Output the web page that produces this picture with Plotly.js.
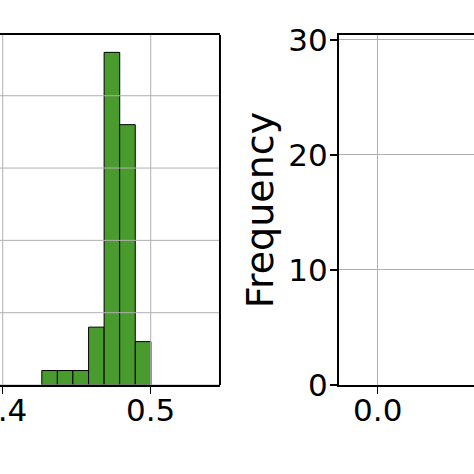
<!DOCTYPE html>
<html>
<head>
<meta charset="utf-8">
<script src="https://cdn.plot.ly/plotly-3.0.1.min.js"></script>
<style>html,body{margin:0;padding:0;background:#fff;}#chart{width:474px;height:474px;}</style>
</head>
<body>
<div id="chart"></div>
<script>
// Left histogram (visible part): bin centres and counts
const binCenters = [0.4317, 0.4422, 0.4527, 0.4633, 0.4738, 0.4843, 0.4949];
const binWidth = 0.01054;
const counts = [1, 1, 1, 4, 23, 18, 3];

// Tick values
const leftXTicks = [0.4, 0.5];
const leftYTicks = [0, 5, 10, 15, 20];
const rightXTicks = [0.0];
const rightYTicks = [0, 10, 20, 30];
const rightYTitle = 'Frequency';

const font = 'DejaVu Sans, sans-serif';
const gridColor = '#b0b0b0';

const trace = {
  type: 'bar', x: binCenters, y: counts, width: binWidth,
  xaxis: 'x', yaxis: 'y',
  marker: {color: '#4a9b2e', line: {color: '#000', width: 1}},
  hoverinfo: 'skip'
};
const dummy = {type: 'scatter', x: [], y: [], xaxis: 'x2', yaxis: 'y2', hoverinfo: 'skip'};

const shapes = [];
// grid lines drawn above bars (left panel)
leftYTicks.forEach(v => shapes.push({type:'line', layer:'above', xref:'x domain', yref:'y', x0:0, x1:1, y0:v, y1:v, line:{color:gridColor, width:1}}));
leftXTicks.forEach(v => shapes.push({type:'line', layer:'above', xref:'x', yref:'y domain', x0:v, x1:v, y0:0, y1:1, line:{color:gridColor, width:1}}));
// right spine of left panel
shapes.push({type:'line', layer:'above', xref:'x domain', yref:'y domain', x0:1, x1:1, y0:0, y1:1, line:{color:'#000', width:2}});

const axCommon = {
  showgrid: true, gridcolor: gridColor, gridwidth: 1, zeroline: false,
  ticks: 'outside', ticklen: 7, tickwidth: 1.5, tickcolor: '#000',
  tickfont: {family: font, size: 31, color: '#000'},
  linecolor: '#000', linewidth: 2
};

const layout = {
  width: 474, height: 474,
  margin: {l: 0, r: 0, t: 35, b: 89},
  paper_bgcolor: '#fff', plot_bgcolor: '#fff',
  showlegend: false,
  xaxis: Object.assign({}, axCommon, {domain: [0, 0.4641], range: [0.39818, 0.54682], tickvals: leftXTicks, ticktext: ['0.4','0.5'], showline: true, mirror: true, anchor: 'y', ticklabelstandoff: -10, showgrid: false, ticklabeloverflow: 'allow'}),
  yaxis: Object.assign({}, axCommon, {range: [0, 24.2], tickvals: leftYTicks, showline: false, anchor: 'x', showgrid: false, showticklabels: false}),
  xaxis2: Object.assign({}, axCommon, {domain: [0.7152, 1], range: [-0.05, 0.1244], tickvals: rightXTicks, ticktext: ['0.0'], showline: true, mirror: true, anchor: 'y2', ticklabelstandoff: -10}),
  yaxis2: Object.assign({}, axCommon, {range: [0, 30.43], tickvals: rightYTicks, showline: true, mirror: false, anchor: 'x2', ticklabelstandoff: -4,
    title: {text: rightYTitle, font: {family: font, size: 38, color: '#000'}, standoff: 3}}),
  shapes: shapes
};

Plotly.newPlot('chart', [trace, dummy], layout, {staticPlot: true, displayModeBar: false});
</script>
</body>
</html>
